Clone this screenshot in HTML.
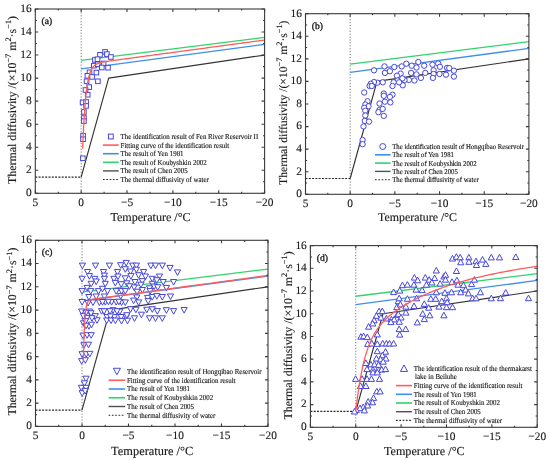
<!DOCTYPE html>
<html><head><meta charset="utf-8"><style>
html,body{margin:0;padding:0;background:#fff;width:550px;height:460px;overflow:hidden;}
svg{display:block;filter:blur(0.3px);}
text{font-family:'Liberation Serif','Times New Roman',serif;fill:#1a1a1a;text-rendering:geometricPrecision;stroke:#1a1a1a;stroke-width:0.14px;}
</style></head><body>
<svg width="550" height="460" viewBox="0 0 550 460">
<rect width="550" height="460" fill="#fff"/>
<line x1="81.16" y1="193.3" x2="81.16" y2="9" stroke="#7a7a7a" stroke-width="1" stroke-dasharray="1.2 1.7"/>
<line x1="35.3" y1="177.17" x2="81.16" y2="177.17" stroke="#2a2a2a" stroke-width="1.1" stroke-dasharray="2 1.3"/>
<polyline points="81.16,60.37 264.6,37.45" fill="none" stroke="#2fd46a" stroke-width="1.3" stroke-linejoin="round"/>
<polyline points="81.16,68.9 264.6,44.36" fill="none" stroke="#3c8ff0" stroke-width="1.3" stroke-linejoin="round"/>
<polyline points="81.16,177.17 108.68,78.11 264.6,55.07" fill="none" stroke="#333" stroke-width="1.15" stroke-linejoin="round"/>
<rect x="102.8" y="49.6" width="4.6" height="4.6" fill="#fff" stroke="#4646dc" stroke-width="1.0"/>
<rect x="97.7" y="52.5" width="4.6" height="4.6" fill="#fff" stroke="#4646dc" stroke-width="1.0"/>
<rect x="104.6" y="51.8" width="4.6" height="4.6" fill="#fff" stroke="#4646dc" stroke-width="1.0"/>
<rect x="108.6" y="54.7" width="4.6" height="4.6" fill="#fff" stroke="#4646dc" stroke-width="1.0"/>
<rect x="92.6" y="57.6" width="4.6" height="4.6" fill="#fff" stroke="#4646dc" stroke-width="1.0"/>
<rect x="95.2" y="56.9" width="4.6" height="4.6" fill="#fff" stroke="#4646dc" stroke-width="1.0"/>
<rect x="101.3" y="61.2" width="4.6" height="4.6" fill="#fff" stroke="#4646dc" stroke-width="1.0"/>
<rect x="91.5" y="63.4" width="4.6" height="4.6" fill="#fff" stroke="#4646dc" stroke-width="1.0"/>
<rect x="95.5" y="62" width="4.6" height="4.6" fill="#fff" stroke="#4646dc" stroke-width="1.0"/>
<rect x="99.5" y="65.2" width="4.6" height="4.6" fill="#fff" stroke="#4646dc" stroke-width="1.0"/>
<rect x="105.7" y="65.4" width="4.6" height="4.6" fill="#fff" stroke="#4646dc" stroke-width="1.0"/>
<rect x="87.2" y="70" width="4.6" height="4.6" fill="#fff" stroke="#4646dc" stroke-width="1.0"/>
<rect x="94.1" y="70.3" width="4.6" height="4.6" fill="#fff" stroke="#4646dc" stroke-width="1.0"/>
<rect x="85.1" y="73.5" width="4.6" height="4.6" fill="#fff" stroke="#4646dc" stroke-width="1.0"/>
<rect x="89.8" y="74.6" width="4.6" height="4.6" fill="#fff" stroke="#4646dc" stroke-width="1.0"/>
<rect x="95.6" y="79" width="4.6" height="4.6" fill="#fff" stroke="#4646dc" stroke-width="1.0"/>
<rect x="84.3" y="79" width="4.6" height="4.6" fill="#fff" stroke="#4646dc" stroke-width="1.0"/>
<rect x="86.9" y="84.8" width="4.6" height="4.6" fill="#fff" stroke="#4646dc" stroke-width="1.0"/>
<rect x="83.2" y="87.7" width="4.6" height="4.6" fill="#fff" stroke="#4646dc" stroke-width="1.0"/>
<rect x="85.4" y="92.4" width="4.6" height="4.6" fill="#fff" stroke="#4646dc" stroke-width="1.0"/>
<rect x="80.3" y="100.1" width="4.6" height="4.6" fill="#fff" stroke="#4646dc" stroke-width="1.0"/>
<rect x="83.8" y="99.7" width="4.6" height="4.6" fill="#fff" stroke="#4646dc" stroke-width="1.0"/>
<rect x="83.8" y="103.6" width="4.6" height="4.6" fill="#fff" stroke="#4646dc" stroke-width="1.0"/>
<rect x="81.6" y="109.7" width="4.6" height="4.6" fill="#fff" stroke="#4646dc" stroke-width="1.0"/>
<rect x="81.6" y="115.7" width="4.6" height="4.6" fill="#fff" stroke="#4646dc" stroke-width="1.0"/>
<rect x="81.6" y="118.8" width="4.6" height="4.6" fill="#fff" stroke="#4646dc" stroke-width="1.0"/>
<rect x="80.8" y="133.4" width="4.6" height="4.6" fill="#fff" stroke="#4646dc" stroke-width="1.0"/>
<rect x="80.8" y="136.9" width="4.6" height="4.6" fill="#fff" stroke="#4646dc" stroke-width="1.0"/>
<rect x="80.6" y="156" width="4.6" height="4.6" fill="#fff" stroke="#4646dc" stroke-width="1.0"/>
<polyline points="82.67,148.49 82.68,148.42 82.69,148.19 82.7,147.75 82.73,147.1 82.76,146.24 82.81,145.15 82.86,143.83 82.93,142.3 83,140.56 83.09,138.62 83.18,136.49 83.29,134.18 83.41,131.72 83.54,129.11 83.68,126.39 83.84,123.56 84,120.66 84.18,117.71 84.37,114.71 84.57,111.71 84.79,108.71 85.02,105.73 85.26,102.81 85.51,99.94 85.78,97.15 86.06,94.45 86.35,91.86 86.66,89.38 86.98,87.01 87.31,84.78 87.66,82.67 88.02,80.7 88.4,78.86 88.78,77.15 89.19,75.58 89.6,74.13 90.03,72.8 90.48,71.59 90.94,70.5 91.41,69.51 91.9,68.62 92.4,67.81 92.92,67.1 93.45,66.46 93.99,65.89 94.56,65.38 95.13,64.93 95.72,64.52 96.33,64.17 96.95,63.85 97.58,63.56 98.23,63.31 98.9,63.08 99.58,62.87 100.28,62.67 100.99,62.5 101.72,62.33 102.46,62.18 103.22,62.03 103.99,61.89 104.78,61.75 105.59,61.62 106.41,61.49 107.24,61.36 108.1,61.24 108.97,61.11 109.85,60.98 110.75,60.85 111.67,60.73 112.6,60.6 113.55,60.47 114.51,60.33 115.49,60.2 116.49,60.06 117.5,59.93 118.53,59.79 119.58,59.64 120.64,59.5 121.72,59.35 122.82,59.2 123.93,59.05 125.06,58.9 126.2,58.75 127.37,58.59 128.55,58.43 129.74,58.27 130.95,58.1 132.18,57.94 133.43,57.77 134.69,57.6 135.97,57.43 137.27,57.25 138.58,57.07 139.91,56.89 141.26,56.71 142.63,56.53 144.01,56.34 145.41,56.15 146.83,55.96 148.26,55.76 149.71,55.57 151.18,55.37 152.67,55.17 154.17,54.96 155.69,54.76 157.23,54.55 158.79,54.34 160.36,54.13 161.95,53.91 163.56,53.69 165.19,53.47 166.83,53.25 168.49,53.03 170.17,52.8 171.87,52.57 173.59,52.34 175.32,52.1 177.07,51.87 178.84,51.63 180.63,51.39 182.43,51.14 184.25,50.9 186.1,50.65 187.95,50.4 189.83,50.14 191.73,49.89 193.64,49.63 195.57,49.37 197.52,49.1 199.49,48.84 201.47,48.57 203.48,48.3 205.5,48.02 207.54,47.75 209.6,47.47 211.68,47.19 213.77,46.9 215.89,46.62 218.02,46.33 220.17,46.04 222.34,45.74 224.53,45.45 226.74,45.15 228.97,44.85 231.21,44.55 233.47,44.24 235.75,43.93 238.05,43.62 240.37,43.31 242.71,42.99 245.07,42.67 247.44,42.35 249.84,42.03 252.25,41.7 254.68,41.37 257.13,41.04 259.6,40.71 262.09,40.37 264.6,40.03" fill="none" stroke="#ff5c5c" stroke-width="1.3" stroke-linejoin="round"/>
<rect x="35.3" y="9" width="229.3" height="184.3" fill="none" stroke="#3a3a3a" stroke-width="1.1"/>
<path d="M35.3,193.3h3M264.6,193.3h-3M35.3,181.78h1.6M264.6,181.78h-1.6M35.3,170.26h3M264.6,170.26h-3M35.3,158.74h1.6M264.6,158.74h-1.6M35.3,147.23h3M264.6,147.23h-3M35.3,135.71h1.6M264.6,135.71h-1.6M35.3,124.19h3M264.6,124.19h-3M35.3,112.67h1.6M264.6,112.67h-1.6M35.3,101.15h3M264.6,101.15h-3M35.3,89.63h1.6M264.6,89.63h-1.6M35.3,78.11h3M264.6,78.11h-3M35.3,66.59h1.6M264.6,66.59h-1.6M35.3,55.07h3M264.6,55.07h-3M35.3,43.56h1.6M264.6,43.56h-1.6M35.3,32.04h3M264.6,32.04h-3M35.3,20.52h1.6M264.6,20.52h-1.6M35.3,9h3M264.6,9h-3M35.3,193.3v-3M35.3,9v3M58.23,193.3v-1.6M58.23,9v1.6M81.16,193.3v-3M81.16,9v3M104.09,193.3v-1.6M104.09,9v1.6M127.02,193.3v-3M127.02,9v3M149.95,193.3v-1.6M149.95,9v1.6M172.88,193.3v-3M172.88,9v3M195.81,193.3v-1.6M195.81,9v1.6M218.74,193.3v-3M218.74,9v3M241.67,193.3v-1.6M241.67,9v1.6M264.6,193.3v-3M264.6,9v3" stroke="#3a3a3a" stroke-width="1.1" fill="none"/>
<text x="31.7" y="196.2" text-anchor="end" font-size="11.4">0</text>
<text x="31.7" y="173.16" text-anchor="end" font-size="11.4">2</text>
<text x="31.7" y="150.13" text-anchor="end" font-size="11.4">4</text>
<text x="31.7" y="127.09" text-anchor="end" font-size="11.4">6</text>
<text x="31.7" y="104.05" text-anchor="end" font-size="11.4">8</text>
<text x="31.7" y="81.01" text-anchor="end" font-size="11.4">10</text>
<text x="31.7" y="57.97" text-anchor="end" font-size="11.4">12</text>
<text x="31.7" y="34.94" text-anchor="end" font-size="11.4">14</text>
<text x="31.7" y="11.9" text-anchor="end" font-size="11.4">16</text>
<text x="35.3" y="205.5" text-anchor="middle" font-size="11.4">5</text>
<text x="81.16" y="205.5" text-anchor="middle" font-size="11.4">0</text>
<text x="127.02" y="205.5" text-anchor="middle" font-size="11.4">−5</text>
<text x="172.88" y="205.5" text-anchor="middle" font-size="11.4">−10</text>
<text x="218.74" y="205.5" text-anchor="middle" font-size="11.4">−15</text>
<text x="264.6" y="205.5" text-anchor="middle" font-size="11.4">−20</text>
<text x="150.5" y="220.8" text-anchor="middle" font-size="12.1">Temperature /°C</text>
<text transform="translate(16,100) rotate(-90)" text-anchor="middle" font-size="11.9">Thermal diffusivity /(×10<tspan dy="-4.7" font-size="8.3">−7</tspan><tspan dy="4.7"> m</tspan><tspan dy="-4.7" font-size="8.3">2</tspan><tspan dy="4.7">·s</tspan><tspan dy="-4.7" font-size="8.3">−1</tspan><tspan dy="4.7">)</tspan></text>
<text x="41.6" y="23.9" font-size="9.6" style="stroke-width:0.35px">(a)</text>
<rect x="108.43" y="134.09" width="4.83" height="4.83" fill="#fff" stroke="#4646dc" stroke-width="1.0"/>
<text transform="translate(120.6,138.9) scale(1,1.1)" font-size="6.9">The identification result of Fen River Reservoir II</text>
<line x1="103" y1="145.1" x2="118.7" y2="145.1" stroke="#ff5c5c" stroke-width="1.6"/>
<text transform="translate(120.6,147.5) scale(1,1.1)" font-size="6.9">Fitting curve of the identification result</text>
<line x1="103" y1="153.7" x2="118.7" y2="153.7" stroke="#3c8ff0" stroke-width="1.6"/>
<text transform="translate(120.6,156.1) scale(1,1.1)" font-size="6.9">The result of Yen 1981</text>
<line x1="103" y1="162.3" x2="118.7" y2="162.3" stroke="#2fd46a" stroke-width="1.6"/>
<text transform="translate(120.6,164.7) scale(1,1.1)" font-size="6.9">The result of Koubyshkin 2002</text>
<line x1="103" y1="170.9" x2="118.7" y2="170.9" stroke="#505050" stroke-width="1.4"/>
<text transform="translate(120.6,173.3) scale(1,1.1)" font-size="6.9">The result of Chen 2005</text>
<line x1="103" y1="179.5" x2="118.7" y2="179.5" stroke="#2a2a2a" stroke-width="1.1" stroke-dasharray="1.7 1.6"/>
<text transform="translate(120.6,181.9) scale(1,1.1)" font-size="6.9">The thermal diffusivity of water</text>
<line x1="350.18" y1="194.3" x2="350.18" y2="13.7" stroke="#7a7a7a" stroke-width="1" stroke-dasharray="1.2 1.7"/>
<line x1="305.5" y1="178.5" x2="350.18" y2="178.5" stroke="#2a2a2a" stroke-width="1.1" stroke-dasharray="2 1.3"/>
<polyline points="350.18,64.04 528.9,41.58" fill="none" stroke="#2fd46a" stroke-width="1.3" stroke-linejoin="round"/>
<polyline points="350.18,72.39 528.9,48.35" fill="none" stroke="#3c8ff0" stroke-width="1.3" stroke-linejoin="round"/>
<polyline points="350.18,178.5 376.99,81.42 528.9,58.85" fill="none" stroke="#333" stroke-width="1.15" stroke-linejoin="round"/>
<circle cx="374" cy="70.3" r="2.6750000000000003" fill="#fff" stroke="#4646dc" stroke-width="1.0"/>
<circle cx="384.5" cy="66.4" r="2.6750000000000003" fill="#fff" stroke="#4646dc" stroke-width="1.0"/>
<circle cx="384.9" cy="72.9" r="2.6750000000000003" fill="#fff" stroke="#4646dc" stroke-width="1.0"/>
<circle cx="389.9" cy="71.2" r="2.6750000000000003" fill="#fff" stroke="#4646dc" stroke-width="1.0"/>
<circle cx="394.3" cy="67" r="2.6750000000000003" fill="#fff" stroke="#4646dc" stroke-width="1.0"/>
<circle cx="401.7" cy="66.4" r="2.6750000000000003" fill="#fff" stroke="#4646dc" stroke-width="1.0"/>
<circle cx="406.3" cy="63.7" r="2.6750000000000003" fill="#fff" stroke="#4646dc" stroke-width="1.0"/>
<circle cx="411.7" cy="65.7" r="2.6750000000000003" fill="#fff" stroke="#4646dc" stroke-width="1.0"/>
<circle cx="416.5" cy="67.5" r="2.6750000000000003" fill="#fff" stroke="#4646dc" stroke-width="1.0"/>
<circle cx="418.3" cy="62" r="2.6750000000000003" fill="#fff" stroke="#4646dc" stroke-width="1.0"/>
<circle cx="424.2" cy="65.7" r="2.6750000000000003" fill="#fff" stroke="#4646dc" stroke-width="1.0"/>
<circle cx="432.5" cy="64.6" r="2.6750000000000003" fill="#fff" stroke="#4646dc" stroke-width="1.0"/>
<circle cx="438.2" cy="63.5" r="2.6750000000000003" fill="#fff" stroke="#4646dc" stroke-width="1.0"/>
<circle cx="439.9" cy="66.8" r="2.6750000000000003" fill="#fff" stroke="#4646dc" stroke-width="1.0"/>
<circle cx="447.1" cy="67.9" r="2.6750000000000003" fill="#fff" stroke="#4646dc" stroke-width="1.0"/>
<circle cx="449.3" cy="68.1" r="2.6750000000000003" fill="#fff" stroke="#4646dc" stroke-width="1.0"/>
<circle cx="453.9" cy="70.7" r="2.6750000000000003" fill="#fff" stroke="#4646dc" stroke-width="1.0"/>
<circle cx="433.6" cy="70.3" r="2.6750000000000003" fill="#fff" stroke="#4646dc" stroke-width="1.0"/>
<circle cx="433.6" cy="74" r="2.6750000000000003" fill="#fff" stroke="#4646dc" stroke-width="1.0"/>
<circle cx="439.5" cy="74" r="2.6750000000000003" fill="#fff" stroke="#4646dc" stroke-width="1.0"/>
<circle cx="446" cy="74.7" r="2.6750000000000003" fill="#fff" stroke="#4646dc" stroke-width="1.0"/>
<circle cx="453.9" cy="76.6" r="2.6750000000000003" fill="#fff" stroke="#4646dc" stroke-width="1.0"/>
<circle cx="432.9" cy="77.9" r="2.6750000000000003" fill="#fff" stroke="#4646dc" stroke-width="1.0"/>
<circle cx="425.3" cy="72.9" r="2.6750000000000003" fill="#fff" stroke="#4646dc" stroke-width="1.0"/>
<circle cx="420.9" cy="77.9" r="2.6750000000000003" fill="#fff" stroke="#4646dc" stroke-width="1.0"/>
<circle cx="416.5" cy="74.4" r="2.6750000000000003" fill="#fff" stroke="#4646dc" stroke-width="1.0"/>
<circle cx="411.1" cy="72.9" r="2.6750000000000003" fill="#fff" stroke="#4646dc" stroke-width="1.0"/>
<circle cx="414.4" cy="80.5" r="2.6750000000000003" fill="#fff" stroke="#4646dc" stroke-width="1.0"/>
<circle cx="408.9" cy="79.9" r="2.6750000000000003" fill="#fff" stroke="#4646dc" stroke-width="1.0"/>
<circle cx="404.5" cy="80.1" r="2.6750000000000003" fill="#fff" stroke="#4646dc" stroke-width="1.0"/>
<circle cx="400.6" cy="73.6" r="2.6750000000000003" fill="#fff" stroke="#4646dc" stroke-width="1.0"/>
<circle cx="396.9" cy="75.7" r="2.6750000000000003" fill="#fff" stroke="#4646dc" stroke-width="1.0"/>
<circle cx="397.6" cy="80.5" r="2.6750000000000003" fill="#fff" stroke="#4646dc" stroke-width="1.0"/>
<circle cx="402.4" cy="78.4" r="2.6750000000000003" fill="#fff" stroke="#4646dc" stroke-width="1.0"/>
<circle cx="402.8" cy="85.3" r="2.6750000000000003" fill="#fff" stroke="#4646dc" stroke-width="1.0"/>
<circle cx="399.1" cy="82.3" r="2.6750000000000003" fill="#fff" stroke="#4646dc" stroke-width="1.0"/>
<circle cx="393.6" cy="82.3" r="2.6750000000000003" fill="#fff" stroke="#4646dc" stroke-width="1.0"/>
<circle cx="392.5" cy="86" r="2.6750000000000003" fill="#fff" stroke="#4646dc" stroke-width="1.0"/>
<circle cx="382.7" cy="82.3" r="2.6750000000000003" fill="#fff" stroke="#4646dc" stroke-width="1.0"/>
<circle cx="377.3" cy="82.7" r="2.6750000000000003" fill="#fff" stroke="#4646dc" stroke-width="1.0"/>
<circle cx="374" cy="82.1" r="2.6750000000000003" fill="#fff" stroke="#4646dc" stroke-width="1.0"/>
<circle cx="370.7" cy="83.8" r="2.6750000000000003" fill="#fff" stroke="#4646dc" stroke-width="1.0"/>
<circle cx="369.6" cy="86" r="2.6750000000000003" fill="#fff" stroke="#4646dc" stroke-width="1.0"/>
<circle cx="371.8" cy="86" r="2.6750000000000003" fill="#fff" stroke="#4646dc" stroke-width="1.0"/>
<circle cx="364.2" cy="92.5" r="2.6750000000000003" fill="#fff" stroke="#4646dc" stroke-width="1.0"/>
<circle cx="383.8" cy="93.6" r="2.6750000000000003" fill="#fff" stroke="#4646dc" stroke-width="1.0"/>
<circle cx="392.5" cy="94.7" r="2.6750000000000003" fill="#fff" stroke="#4646dc" stroke-width="1.0"/>
<circle cx="383.8" cy="95.8" r="2.6750000000000003" fill="#fff" stroke="#4646dc" stroke-width="1.0"/>
<circle cx="389.9" cy="96.9" r="2.6750000000000003" fill="#fff" stroke="#4646dc" stroke-width="1.0"/>
<circle cx="379.5" cy="103.5" r="2.6750000000000003" fill="#fff" stroke="#4646dc" stroke-width="1.0"/>
<circle cx="384.9" cy="101.7" r="2.6750000000000003" fill="#fff" stroke="#4646dc" stroke-width="1.0"/>
<circle cx="390.4" cy="102.4" r="2.6750000000000003" fill="#fff" stroke="#4646dc" stroke-width="1.0"/>
<circle cx="367.5" cy="101.3" r="2.6750000000000003" fill="#fff" stroke="#4646dc" stroke-width="1.0"/>
<circle cx="365.3" cy="104.5" r="2.6750000000000003" fill="#fff" stroke="#4646dc" stroke-width="1.0"/>
<circle cx="368.5" cy="106.3" r="2.6750000000000003" fill="#fff" stroke="#4646dc" stroke-width="1.0"/>
<circle cx="364.2" cy="107.8" r="2.6750000000000003" fill="#fff" stroke="#4646dc" stroke-width="1.0"/>
<circle cx="365.3" cy="110.7" r="2.6750000000000003" fill="#fff" stroke="#4646dc" stroke-width="1.0"/>
<circle cx="379.5" cy="110" r="2.6750000000000003" fill="#fff" stroke="#4646dc" stroke-width="1.0"/>
<circle cx="382.7" cy="108.9" r="2.6750000000000003" fill="#fff" stroke="#4646dc" stroke-width="1.0"/>
<circle cx="378.4" cy="112.2" r="2.6750000000000003" fill="#fff" stroke="#4646dc" stroke-width="1.0"/>
<circle cx="383.8" cy="115.9" r="2.6750000000000003" fill="#fff" stroke="#4646dc" stroke-width="1.0"/>
<circle cx="365.3" cy="115.5" r="2.6750000000000003" fill="#fff" stroke="#4646dc" stroke-width="1.0"/>
<circle cx="364.8" cy="120.9" r="2.6750000000000003" fill="#fff" stroke="#4646dc" stroke-width="1.0"/>
<circle cx="369" cy="121.6" r="2.6750000000000003" fill="#fff" stroke="#4646dc" stroke-width="1.0"/>
<circle cx="363.5" cy="126.4" r="2.6750000000000003" fill="#fff" stroke="#4646dc" stroke-width="1.0"/>
<circle cx="362.6" cy="140" r="2.6750000000000003" fill="#fff" stroke="#4646dc" stroke-width="1.0"/>
<circle cx="362.6" cy="144.2" r="2.6750000000000003" fill="#fff" stroke="#4646dc" stroke-width="1.0"/>
<rect x="305.5" y="13.7" width="223.4" height="180.6" fill="none" stroke="#3a3a3a" stroke-width="1.1"/>
<path d="M305.5,194.3h3M528.9,194.3h-3M305.5,183.01h1.6M528.9,183.01h-1.6M305.5,171.73h3M528.9,171.73h-3M305.5,160.44h1.6M528.9,160.44h-1.6M305.5,149.15h3M528.9,149.15h-3M305.5,137.86h1.6M528.9,137.86h-1.6M305.5,126.58h3M528.9,126.58h-3M305.5,115.29h1.6M528.9,115.29h-1.6M305.5,104h3M528.9,104h-3M305.5,92.71h1.6M528.9,92.71h-1.6M305.5,81.42h3M528.9,81.42h-3M305.5,70.14h1.6M528.9,70.14h-1.6M305.5,58.85h3M528.9,58.85h-3M305.5,47.56h1.6M528.9,47.56h-1.6M305.5,36.27h3M528.9,36.27h-3M305.5,24.99h1.6M528.9,24.99h-1.6M305.5,13.7h3M528.9,13.7h-3M305.5,194.3v-3M305.5,13.7v3M327.84,194.3v-1.6M327.84,13.7v1.6M350.18,194.3v-3M350.18,13.7v3M372.52,194.3v-1.6M372.52,13.7v1.6M394.86,194.3v-3M394.86,13.7v3M417.2,194.3v-1.6M417.2,13.7v1.6M439.54,194.3v-3M439.54,13.7v3M461.88,194.3v-1.6M461.88,13.7v1.6M484.22,194.3v-3M484.22,13.7v3M506.56,194.3v-1.6M506.56,13.7v1.6M528.9,194.3v-3M528.9,13.7v3" stroke="#3a3a3a" stroke-width="1.1" fill="none"/>
<text x="301.9" y="197.2" text-anchor="end" font-size="11.4">0</text>
<text x="301.9" y="174.63" text-anchor="end" font-size="11.4">2</text>
<text x="301.9" y="152.05" text-anchor="end" font-size="11.4">4</text>
<text x="301.9" y="129.47" text-anchor="end" font-size="11.4">6</text>
<text x="301.9" y="106.9" text-anchor="end" font-size="11.4">8</text>
<text x="301.9" y="84.33" text-anchor="end" font-size="11.4">10</text>
<text x="301.9" y="61.75" text-anchor="end" font-size="11.4">12</text>
<text x="301.9" y="39.17" text-anchor="end" font-size="11.4">14</text>
<text x="301.9" y="16.6" text-anchor="end" font-size="11.4">16</text>
<text x="305.5" y="206.5" text-anchor="middle" font-size="11.4">5</text>
<text x="350.18" y="206.5" text-anchor="middle" font-size="11.4">0</text>
<text x="394.86" y="206.5" text-anchor="middle" font-size="11.4">−5</text>
<text x="439.54" y="206.5" text-anchor="middle" font-size="11.4">−10</text>
<text x="484.22" y="206.5" text-anchor="middle" font-size="11.4">−15</text>
<text x="528.9" y="206.5" text-anchor="middle" font-size="11.4">−20</text>
<text x="417.5" y="220.5" text-anchor="middle" font-size="11.9">Temperature /°C</text>
<text transform="translate(287,102.7) rotate(-90)" text-anchor="middle" font-size="11.6">Thermal diffusivity /(×10<tspan dy="-4.7" font-size="8.3">−7</tspan><tspan dy="4.7"> m</tspan><tspan dy="-4.7" font-size="8.3">2</tspan><tspan dy="4.7">·s</tspan><tspan dy="-4.7" font-size="8.3">−1</tspan><tspan dy="4.7">)</tspan></text>
<text x="311.8" y="28.6" font-size="9.6" style="stroke-width:0.35px">(b)</text>
<circle cx="382.75" cy="146.5" r="2.9499999999999997" fill="#fff" stroke="#4646dc" stroke-width="1.0"/>
<text transform="translate(392.2,148.9) scale(1,1.1)" font-size="6.75">The identification result of Hongqibao Reservoir</text>
<line x1="375" y1="154.8" x2="390.5" y2="154.8" stroke="#3c8ff0" stroke-width="1.6"/>
<text transform="translate(392.2,157.2) scale(1,1.1)" font-size="6.75">The result of Yen 1981</text>
<line x1="375" y1="163.1" x2="390.5" y2="163.1" stroke="#2fd46a" stroke-width="1.6"/>
<text transform="translate(392.2,165.5) scale(1,1.1)" font-size="6.75">The result of Koubyshkin 2002</text>
<line x1="375" y1="171.4" x2="390.5" y2="171.4" stroke="#505050" stroke-width="1.4"/>
<text transform="translate(392.2,173.8) scale(1,1.1)" font-size="6.75">The result of Chen 2005</text>
<line x1="375" y1="179.7" x2="390.5" y2="179.7" stroke="#2a2a2a" stroke-width="1.1" stroke-dasharray="1.7 1.6"/>
<text transform="translate(392.2,182.1) scale(1,1.1)" font-size="6.75">The thermal diffusivity of water</text>
<line x1="82" y1="426.4" x2="82" y2="240.3" stroke="#7a7a7a" stroke-width="1" stroke-dasharray="1.2 1.7"/>
<line x1="35.5" y1="410.12" x2="82" y2="410.12" stroke="#2a2a2a" stroke-width="1.1" stroke-dasharray="2 1.3"/>
<polyline points="82,292.18 268,269.03" fill="none" stroke="#2fd46a" stroke-width="1.3" stroke-linejoin="round"/>
<polyline points="82,300.78 268,276.01" fill="none" stroke="#3c8ff0" stroke-width="1.3" stroke-linejoin="round"/>
<polyline points="82,410.12 109.9,310.09 268,286.82" fill="none" stroke="#333" stroke-width="1.15" stroke-linejoin="round"/>
<path d="M79.3,263.1H85.5L82.4,268.7Z" fill="#fff" stroke="#4646dc" stroke-width="1.0" stroke-linejoin="miter"/>
<path d="M92.4,263.1H98.6L95.5,268.7Z" fill="#fff" stroke="#4646dc" stroke-width="1.0" stroke-linejoin="miter"/>
<path d="M106.3,263.1H112.5L109.4,268.7Z" fill="#fff" stroke="#4646dc" stroke-width="1.0" stroke-linejoin="miter"/>
<path d="M117.6,262.7H123.8L120.7,268.3Z" fill="#fff" stroke="#4646dc" stroke-width="1.0" stroke-linejoin="miter"/>
<path d="M123.1,260.4H129.3L126.2,266Z" fill="#fff" stroke="#4646dc" stroke-width="1.0" stroke-linejoin="miter"/>
<path d="M84.4,269.5H90.6L87.5,275.1Z" fill="#fff" stroke="#4646dc" stroke-width="1.0" stroke-linejoin="miter"/>
<path d="M100.4,269.5H106.6L103.5,275.1Z" fill="#fff" stroke="#4646dc" stroke-width="1.0" stroke-linejoin="miter"/>
<path d="M114.4,269.5H120.6L117.5,275.1Z" fill="#fff" stroke="#4646dc" stroke-width="1.0" stroke-linejoin="miter"/>
<path d="M122.2,266.7H128.4L125.3,272.3Z" fill="#fff" stroke="#4646dc" stroke-width="1.0" stroke-linejoin="miter"/>
<path d="M86.3,273.6H92.5L89.4,279.2Z" fill="#fff" stroke="#4646dc" stroke-width="1.0" stroke-linejoin="miter"/>
<path d="M101.3,273.1H107.5L104.4,278.7Z" fill="#fff" stroke="#4646dc" stroke-width="1.0" stroke-linejoin="miter"/>
<path d="M79,276.3H85.2L82.1,281.9Z" fill="#fff" stroke="#4646dc" stroke-width="1.0" stroke-linejoin="miter"/>
<path d="M91.7,276.3H97.9L94.8,281.9Z" fill="#fff" stroke="#4646dc" stroke-width="1.0" stroke-linejoin="miter"/>
<path d="M93.1,279H99.3L96.2,284.6Z" fill="#fff" stroke="#4646dc" stroke-width="1.0" stroke-linejoin="miter"/>
<path d="M101.3,276.3H107.5L104.4,281.9Z" fill="#fff" stroke="#4646dc" stroke-width="1.0" stroke-linejoin="miter"/>
<path d="M110.8,276.3H117L113.9,281.9Z" fill="#fff" stroke="#4646dc" stroke-width="1.0" stroke-linejoin="miter"/>
<path d="M114.9,274H121.1L118,279.6Z" fill="#fff" stroke="#4646dc" stroke-width="1.0" stroke-linejoin="miter"/>
<path d="M122.2,275.8H128.4L125.3,281.4Z" fill="#fff" stroke="#4646dc" stroke-width="1.0" stroke-linejoin="miter"/>
<path d="M88.1,281.3H94.3L91.2,286.9Z" fill="#fff" stroke="#4646dc" stroke-width="1.0" stroke-linejoin="miter"/>
<path d="M102.2,281.3H108.4L105.3,286.9Z" fill="#fff" stroke="#4646dc" stroke-width="1.0" stroke-linejoin="miter"/>
<path d="M112.2,280.4H118.4L115.3,286Z" fill="#fff" stroke="#4646dc" stroke-width="1.0" stroke-linejoin="miter"/>
<path d="M118.1,281.7H124.3L121.2,287.3Z" fill="#fff" stroke="#4646dc" stroke-width="1.0" stroke-linejoin="miter"/>
<path d="M84,285.4H90.2L87.1,291Z" fill="#fff" stroke="#4646dc" stroke-width="1.0" stroke-linejoin="miter"/>
<path d="M79,288.6H85.2L82.1,294.2Z" fill="#fff" stroke="#4646dc" stroke-width="1.0" stroke-linejoin="miter"/>
<path d="M87.6,288.6H93.8L90.7,294.2Z" fill="#fff" stroke="#4646dc" stroke-width="1.0" stroke-linejoin="miter"/>
<path d="M95.4,288.6H101.6L98.5,294.2Z" fill="#fff" stroke="#4646dc" stroke-width="1.0" stroke-linejoin="miter"/>
<path d="M99.4,286.3H105.6L102.5,291.9Z" fill="#fff" stroke="#4646dc" stroke-width="1.0" stroke-linejoin="miter"/>
<path d="M104.4,288.6H110.6L107.5,294.2Z" fill="#fff" stroke="#4646dc" stroke-width="1.0" stroke-linejoin="miter"/>
<path d="M113.1,288.6H119.3L116.2,294.2Z" fill="#fff" stroke="#4646dc" stroke-width="1.0" stroke-linejoin="miter"/>
<path d="M118.5,288.6H124.7L121.6,294.2Z" fill="#fff" stroke="#4646dc" stroke-width="1.0" stroke-linejoin="miter"/>
<path d="M122.2,288.6H128.4L125.3,294.2Z" fill="#fff" stroke="#4646dc" stroke-width="1.0" stroke-linejoin="miter"/>
<path d="M129.6,263.1H135.8L132.7,268.7Z" fill="#fff" stroke="#4646dc" stroke-width="1.0" stroke-linejoin="miter"/>
<path d="M133.3,263.1H139.5L136.4,268.7Z" fill="#fff" stroke="#4646dc" stroke-width="1.0" stroke-linejoin="miter"/>
<path d="M147.8,263.1H154L150.9,268.7Z" fill="#fff" stroke="#4646dc" stroke-width="1.0" stroke-linejoin="miter"/>
<path d="M152.4,263.1H158.6L155.5,268.7Z" fill="#fff" stroke="#4646dc" stroke-width="1.0" stroke-linejoin="miter"/>
<path d="M159.2,263.1H165.4L162.3,268.7Z" fill="#fff" stroke="#4646dc" stroke-width="1.0" stroke-linejoin="miter"/>
<path d="M166.9,265.4H173.1L170,271Z" fill="#fff" stroke="#4646dc" stroke-width="1.0" stroke-linejoin="miter"/>
<path d="M127.4,269H133.6L130.5,274.6Z" fill="#fff" stroke="#4646dc" stroke-width="1.0" stroke-linejoin="miter"/>
<path d="M133.3,267.2H139.5L136.4,272.8Z" fill="#fff" stroke="#4646dc" stroke-width="1.0" stroke-linejoin="miter"/>
<path d="M140.5,269.5H146.7L143.6,275.1Z" fill="#fff" stroke="#4646dc" stroke-width="1.0" stroke-linejoin="miter"/>
<path d="M127.8,273.6H134L130.9,279.2Z" fill="#fff" stroke="#4646dc" stroke-width="1.0" stroke-linejoin="miter"/>
<path d="M135.5,272.7H141.7L138.6,278.3Z" fill="#fff" stroke="#4646dc" stroke-width="1.0" stroke-linejoin="miter"/>
<path d="M142.4,274H148.6L145.5,279.6Z" fill="#fff" stroke="#4646dc" stroke-width="1.0" stroke-linejoin="miter"/>
<path d="M156.4,274H162.6L159.5,279.6Z" fill="#fff" stroke="#4646dc" stroke-width="1.0" stroke-linejoin="miter"/>
<path d="M149.2,276.3H155.4L152.3,281.9Z" fill="#fff" stroke="#4646dc" stroke-width="1.0" stroke-linejoin="miter"/>
<path d="M131.9,279.5H138.1L135,285.1Z" fill="#fff" stroke="#4646dc" stroke-width="1.0" stroke-linejoin="miter"/>
<path d="M139.2,278.6H145.4L142.3,284.2Z" fill="#fff" stroke="#4646dc" stroke-width="1.0" stroke-linejoin="miter"/>
<path d="M153.7,277.7H159.9L156.8,283.3Z" fill="#fff" stroke="#4646dc" stroke-width="1.0" stroke-linejoin="miter"/>
<path d="M160.1,279.5H166.3L163.2,285.1Z" fill="#fff" stroke="#4646dc" stroke-width="1.0" stroke-linejoin="miter"/>
<path d="M170.5,279.5H176.7L173.6,285.1Z" fill="#fff" stroke="#4646dc" stroke-width="1.0" stroke-linejoin="miter"/>
<path d="M149.2,281.3H155.4L152.3,286.9Z" fill="#fff" stroke="#4646dc" stroke-width="1.0" stroke-linejoin="miter"/>
<path d="M123.7,280.8H129.9L126.8,286.4Z" fill="#fff" stroke="#4646dc" stroke-width="1.0" stroke-linejoin="miter"/>
<path d="M131,284.9H137.2L134.1,290.5Z" fill="#fff" stroke="#4646dc" stroke-width="1.0" stroke-linejoin="miter"/>
<path d="M137.8,282.2H144L140.9,287.8Z" fill="#fff" stroke="#4646dc" stroke-width="1.0" stroke-linejoin="miter"/>
<path d="M151,284H157.2L154.1,289.6Z" fill="#fff" stroke="#4646dc" stroke-width="1.0" stroke-linejoin="miter"/>
<path d="M163.3,285.4H169.5L166.4,291Z" fill="#fff" stroke="#4646dc" stroke-width="1.0" stroke-linejoin="miter"/>
<path d="M146.4,285.8H152.6L149.5,291.4Z" fill="#fff" stroke="#4646dc" stroke-width="1.0" stroke-linejoin="miter"/>
<path d="M174.4,269.9H180.6L177.5,275.5Z" fill="#fff" stroke="#4646dc" stroke-width="1.0" stroke-linejoin="miter"/>
<path d="M85.8,294.5H92L88.9,300.1Z" fill="#fff" stroke="#4646dc" stroke-width="1.0" stroke-linejoin="miter"/>
<path d="M93.1,294H99.3L96.2,299.6Z" fill="#fff" stroke="#4646dc" stroke-width="1.0" stroke-linejoin="miter"/>
<path d="M101.3,294H107.5L104.4,299.6Z" fill="#fff" stroke="#4646dc" stroke-width="1.0" stroke-linejoin="miter"/>
<path d="M117.6,293.6H123.8L120.7,299.2Z" fill="#fff" stroke="#4646dc" stroke-width="1.0" stroke-linejoin="miter"/>
<path d="M79,299.5H85.2L82.1,305.1Z" fill="#fff" stroke="#4646dc" stroke-width="1.0" stroke-linejoin="miter"/>
<path d="M89.9,299.9H96.1L93,305.5Z" fill="#fff" stroke="#4646dc" stroke-width="1.0" stroke-linejoin="miter"/>
<path d="M96.3,299.9H102.5L99.4,305.5Z" fill="#fff" stroke="#4646dc" stroke-width="1.0" stroke-linejoin="miter"/>
<path d="M102.2,299.5H108.4L105.3,305.1Z" fill="#fff" stroke="#4646dc" stroke-width="1.0" stroke-linejoin="miter"/>
<path d="M108.5,299.5H114.7L111.6,305.1Z" fill="#fff" stroke="#4646dc" stroke-width="1.0" stroke-linejoin="miter"/>
<path d="M113.1,299.5H119.3L116.2,305.1Z" fill="#fff" stroke="#4646dc" stroke-width="1.0" stroke-linejoin="miter"/>
<path d="M118.5,299.9H124.7L121.6,305.5Z" fill="#fff" stroke="#4646dc" stroke-width="1.0" stroke-linejoin="miter"/>
<path d="M122.2,299.9H128.4L125.3,305.5Z" fill="#fff" stroke="#4646dc" stroke-width="1.0" stroke-linejoin="miter"/>
<path d="M78.5,309H84.7L81.6,314.6Z" fill="#fff" stroke="#4646dc" stroke-width="1.0" stroke-linejoin="miter"/>
<path d="M86.3,309H92.5L89.4,314.6Z" fill="#fff" stroke="#4646dc" stroke-width="1.0" stroke-linejoin="miter"/>
<path d="M98.5,308.6H104.7L101.6,314.2Z" fill="#fff" stroke="#4646dc" stroke-width="1.0" stroke-linejoin="miter"/>
<path d="M109.9,307.7H116.1L113,313.3Z" fill="#fff" stroke="#4646dc" stroke-width="1.0" stroke-linejoin="miter"/>
<path d="M116.7,309H122.9L119.8,314.6Z" fill="#fff" stroke="#4646dc" stroke-width="1.0" stroke-linejoin="miter"/>
<path d="M80.4,313.6H86.6L83.5,319.2Z" fill="#fff" stroke="#4646dc" stroke-width="1.0" stroke-linejoin="miter"/>
<path d="M84,315.4H90.2L87.1,321Z" fill="#fff" stroke="#4646dc" stroke-width="1.0" stroke-linejoin="miter"/>
<path d="M93.9,317.7H100.1L97,323.3Z" fill="#fff" stroke="#4646dc" stroke-width="1.0" stroke-linejoin="miter"/>
<path d="M92.2,313.6H98.4L95.3,319.2Z" fill="#fff" stroke="#4646dc" stroke-width="1.0" stroke-linejoin="miter"/>
<path d="M104,314.5H110.2L107.1,320.1Z" fill="#fff" stroke="#4646dc" stroke-width="1.0" stroke-linejoin="miter"/>
<path d="M111.3,314.5H117.5L114.4,320.1Z" fill="#fff" stroke="#4646dc" stroke-width="1.0" stroke-linejoin="miter"/>
<path d="M118.1,314.5H124.3L121.2,320.1Z" fill="#fff" stroke="#4646dc" stroke-width="1.0" stroke-linejoin="miter"/>
<path d="M123.1,314.5H129.3L126.2,320.1Z" fill="#fff" stroke="#4646dc" stroke-width="1.0" stroke-linejoin="miter"/>
<path d="M80.4,320.8H86.6L83.5,326.4Z" fill="#fff" stroke="#4646dc" stroke-width="1.0" stroke-linejoin="miter"/>
<path d="M85.8,323.6H92L88.9,329.2Z" fill="#fff" stroke="#4646dc" stroke-width="1.0" stroke-linejoin="miter"/>
<path d="M133.7,294.9H139.9L136.8,300.5Z" fill="#fff" stroke="#4646dc" stroke-width="1.0" stroke-linejoin="miter"/>
<path d="M144.6,295.4H150.8L147.7,301Z" fill="#fff" stroke="#4646dc" stroke-width="1.0" stroke-linejoin="miter"/>
<path d="M149.2,294.5H155.4L152.3,300.1Z" fill="#fff" stroke="#4646dc" stroke-width="1.0" stroke-linejoin="miter"/>
<path d="M153.7,293.6H159.9L156.8,299.2Z" fill="#fff" stroke="#4646dc" stroke-width="1.0" stroke-linejoin="miter"/>
<path d="M159.2,294.5H165.4L162.3,300.1Z" fill="#fff" stroke="#4646dc" stroke-width="1.0" stroke-linejoin="miter"/>
<path d="M167.4,294H173.6L170.5,299.6Z" fill="#fff" stroke="#4646dc" stroke-width="1.0" stroke-linejoin="miter"/>
<path d="M130.5,298.1H136.7L133.6,303.7Z" fill="#fff" stroke="#4646dc" stroke-width="1.0" stroke-linejoin="miter"/>
<path d="M135.5,299.9H141.7L138.6,305.5Z" fill="#fff" stroke="#4646dc" stroke-width="1.0" stroke-linejoin="miter"/>
<path d="M145.1,298.6H151.3L148.2,304.2Z" fill="#fff" stroke="#4646dc" stroke-width="1.0" stroke-linejoin="miter"/>
<path d="M127.4,306.7H133.6L130.5,312.3Z" fill="#fff" stroke="#4646dc" stroke-width="1.0" stroke-linejoin="miter"/>
<path d="M132.8,307.2H139L135.9,312.8Z" fill="#fff" stroke="#4646dc" stroke-width="1.0" stroke-linejoin="miter"/>
<path d="M143.7,307.2H149.9L146.8,312.8Z" fill="#fff" stroke="#4646dc" stroke-width="1.0" stroke-linejoin="miter"/>
<path d="M149.2,306.7H155.4L152.3,312.3Z" fill="#fff" stroke="#4646dc" stroke-width="1.0" stroke-linejoin="miter"/>
<path d="M154.2,308.6H160.4L157.3,314.2Z" fill="#fff" stroke="#4646dc" stroke-width="1.0" stroke-linejoin="miter"/>
<path d="M163.3,307.7H169.5L166.4,313.3Z" fill="#fff" stroke="#4646dc" stroke-width="1.0" stroke-linejoin="miter"/>
<path d="M170.5,308.6H176.7L173.6,314.2Z" fill="#fff" stroke="#4646dc" stroke-width="1.0" stroke-linejoin="miter"/>
<path d="M123.7,312.7H129.9L126.8,318.3Z" fill="#fff" stroke="#4646dc" stroke-width="1.0" stroke-linejoin="miter"/>
<path d="M131.4,315.8H137.6L134.5,321.4Z" fill="#fff" stroke="#4646dc" stroke-width="1.0" stroke-linejoin="miter"/>
<path d="M138.3,312.2H144.5L141.4,317.8Z" fill="#fff" stroke="#4646dc" stroke-width="1.0" stroke-linejoin="miter"/>
<path d="M146.4,315.8H152.6L149.5,321.4Z" fill="#fff" stroke="#4646dc" stroke-width="1.0" stroke-linejoin="miter"/>
<path d="M152.4,315.8H158.6L155.5,321.4Z" fill="#fff" stroke="#4646dc" stroke-width="1.0" stroke-linejoin="miter"/>
<path d="M159.2,315.8H165.4L162.3,321.4Z" fill="#fff" stroke="#4646dc" stroke-width="1.0" stroke-linejoin="miter"/>
<path d="M79.9,333.1H86.1L83,338.7Z" fill="#fff" stroke="#4646dc" stroke-width="1.0" stroke-linejoin="miter"/>
<path d="M84,332.7H90.2L87.1,338.3Z" fill="#fff" stroke="#4646dc" stroke-width="1.0" stroke-linejoin="miter"/>
<path d="M88.1,332.7H94.3L91.2,338.3Z" fill="#fff" stroke="#4646dc" stroke-width="1.0" stroke-linejoin="miter"/>
<path d="M80.8,342.7H87L83.9,348.3Z" fill="#fff" stroke="#4646dc" stroke-width="1.0" stroke-linejoin="miter"/>
<path d="M85.4,342.2H91.6L88.5,347.8Z" fill="#fff" stroke="#4646dc" stroke-width="1.0" stroke-linejoin="miter"/>
<path d="M79,351.7H85.2L82.1,357.3Z" fill="#fff" stroke="#4646dc" stroke-width="1.0" stroke-linejoin="miter"/>
<path d="M83.1,351.7H89.3L86.2,357.3Z" fill="#fff" stroke="#4646dc" stroke-width="1.0" stroke-linejoin="miter"/>
<path d="M86.7,351.3H92.9L89.8,356.9Z" fill="#fff" stroke="#4646dc" stroke-width="1.0" stroke-linejoin="miter"/>
<path d="M78.5,358.6H84.7L81.6,364.2Z" fill="#fff" stroke="#4646dc" stroke-width="1.0" stroke-linejoin="miter"/>
<path d="M82.2,357.7H88.4L85.3,363.3Z" fill="#fff" stroke="#4646dc" stroke-width="1.0" stroke-linejoin="miter"/>
<path d="M82.9,376.2H89.1L86,381.8Z" fill="#fff" stroke="#4646dc" stroke-width="1.0" stroke-linejoin="miter"/>
<path d="M81.3,380.8H87.5L84.4,386.4Z" fill="#fff" stroke="#4646dc" stroke-width="1.0" stroke-linejoin="miter"/>
<path d="M78.3,385.3H84.5L81.4,390.9Z" fill="#fff" stroke="#4646dc" stroke-width="1.0" stroke-linejoin="miter"/>
<path d="M82.9,385.3H89.1L86,390.9Z" fill="#fff" stroke="#4646dc" stroke-width="1.0" stroke-linejoin="miter"/>
<path d="M79.1,390.7H85.3L82.2,396.3Z" fill="#fff" stroke="#4646dc" stroke-width="1.0" stroke-linejoin="miter"/>
<path d="M82.1,388.4H88.3L85.2,394Z" fill="#fff" stroke="#4646dc" stroke-width="1.0" stroke-linejoin="miter"/>
<path d="M105.3,299.2H111.5L108.4,304.8Z" fill="#fff" stroke="#4646dc" stroke-width="1.0" stroke-linejoin="miter"/>
<path d="M99.4,299.5H105.6L102.5,305.1Z" fill="#fff" stroke="#4646dc" stroke-width="1.0" stroke-linejoin="miter"/>
<path d="M115.8,299.2H122L118.9,304.8Z" fill="#fff" stroke="#4646dc" stroke-width="1.0" stroke-linejoin="miter"/>
<path d="M100.9,308.7H107.1L104,314.3Z" fill="#fff" stroke="#4646dc" stroke-width="1.0" stroke-linejoin="miter"/>
<path d="M106.9,308.7H113.1L110,314.3Z" fill="#fff" stroke="#4646dc" stroke-width="1.0" stroke-linejoin="miter"/>
<path d="M113.9,308.7H120.1L117,314.3Z" fill="#fff" stroke="#4646dc" stroke-width="1.0" stroke-linejoin="miter"/>
<path d="M107.4,313.9H113.6L110.5,319.5Z" fill="#fff" stroke="#4646dc" stroke-width="1.0" stroke-linejoin="miter"/>
<path d="M103.6,318H109.8L106.7,323.6Z" fill="#fff" stroke="#4646dc" stroke-width="1.0" stroke-linejoin="miter"/>
<path d="M107.9,318H114.1L111,323.6Z" fill="#fff" stroke="#4646dc" stroke-width="1.0" stroke-linejoin="miter"/>
<path d="M112.3,318H118.5L115.4,323.6Z" fill="#fff" stroke="#4646dc" stroke-width="1.0" stroke-linejoin="miter"/>
<path d="M84.9,300.4H91.1L88,306Z" fill="#fff" stroke="#4646dc" stroke-width="1.0" stroke-linejoin="miter"/>
<path d="M82.9,310.2H89.1L86,315.8Z" fill="#fff" stroke="#4646dc" stroke-width="1.0" stroke-linejoin="miter"/>
<path d="M87.9,310.7H94.1L91,316.3Z" fill="#fff" stroke="#4646dc" stroke-width="1.0" stroke-linejoin="miter"/>
<path d="M88.9,315.7H95.1L92,321.3Z" fill="#fff" stroke="#4646dc" stroke-width="1.0" stroke-linejoin="miter"/>
<path d="M82.4,318.7H88.6L85.5,324.3Z" fill="#fff" stroke="#4646dc" stroke-width="1.0" stroke-linejoin="miter"/>
<path d="M88.4,322.2H94.6L91.5,327.8Z" fill="#fff" stroke="#4646dc" stroke-width="1.0" stroke-linejoin="miter"/>
<path d="M82.9,323.2H89.1L86,328.8Z" fill="#fff" stroke="#4646dc" stroke-width="1.0" stroke-linejoin="miter"/>
<path d="M181,307.5H187.2L184.1,313.1Z" fill="#fff" stroke="#4646dc" stroke-width="1.0" stroke-linejoin="miter"/>
<path d="M118.4,318.4H124.6L121.5,324Z" fill="#fff" stroke="#4646dc" stroke-width="1.0" stroke-linejoin="miter"/>
<path d="M124.4,318.2H130.6L127.5,323.8Z" fill="#fff" stroke="#4646dc" stroke-width="1.0" stroke-linejoin="miter"/>
<path d="M139.3,287.5H145.5L142.4,293.1Z" fill="#fff" stroke="#4646dc" stroke-width="1.0" stroke-linejoin="miter"/>
<path d="M147,288.6H153.2L150.1,294.2Z" fill="#fff" stroke="#4646dc" stroke-width="1.0" stroke-linejoin="miter"/>
<path d="M154.6,284.7H160.8L157.7,290.3Z" fill="#fff" stroke="#4646dc" stroke-width="1.0" stroke-linejoin="miter"/>
<path d="M126.3,283.7H132.5L129.4,289.3Z" fill="#fff" stroke="#4646dc" stroke-width="1.0" stroke-linejoin="miter"/>
<path d="M133.9,289.2H140.1L137,294.8Z" fill="#fff" stroke="#4646dc" stroke-width="1.0" stroke-linejoin="miter"/>
<polyline points="83.38,361.01 83.38,360.89 83.39,360.46 83.41,359.69 83.43,358.54 83.47,357.03 83.51,355.17 83.57,352.97 83.63,350.47 83.71,347.72 83.8,344.76 83.89,341.64 84,338.42 84.12,335.14 84.26,331.87 84.4,328.66 84.56,325.54 84.73,322.55 84.91,319.73 85.1,317.11 85.31,314.69 85.52,312.5 85.76,310.52 86,308.77 86.26,307.23 86.53,305.9 86.81,304.75 87.11,303.77 87.42,302.94 87.75,302.25 88.08,301.68 88.44,301.21 88.8,300.82 89.18,300.51 89.58,300.24 89.99,300.03 90.41,299.85 90.85,299.7 91.3,299.57 91.76,299.46 92.24,299.36 92.74,299.26 93.25,299.18 93.77,299.09 94.31,299.01 94.87,298.93 95.43,298.85 96.02,298.77 96.62,298.68 97.23,298.6 97.86,298.51 98.51,298.42 99.17,298.33 99.84,298.24 100.53,298.15 101.24,298.05 101.96,297.96 102.7,297.86 103.46,297.75 104.23,297.65 105.01,297.54 105.81,297.43 106.63,297.32 107.46,297.21 108.31,297.1 109.18,296.98 110.06,296.86 110.96,296.74 111.87,296.61 112.8,296.49 113.75,296.36 114.71,296.23 115.69,296.1 116.68,295.96 117.69,295.82 118.72,295.68 119.77,295.54 120.83,295.4 121.91,295.25 123,295.1 124.12,294.95 125.24,294.8 126.39,294.64 127.55,294.49 128.73,294.33 129.93,294.17 131.14,294 132.37,293.83 133.62,293.66 134.88,293.49 136.17,293.32 137.46,293.14 138.78,292.97 140.11,292.78 141.47,292.6 142.83,292.42 144.22,292.23 145.62,292.04 147.04,291.85 148.48,291.65 149.94,291.45 151.41,291.25 152.9,291.05 154.41,290.85 155.93,290.64 157.48,290.43 159.04,290.22 160.62,290 162.22,289.79 163.83,289.57 165.46,289.35 167.11,289.12 168.78,288.9 170.47,288.67 172.17,288.44 173.9,288.21 175.64,287.97 177.4,287.73 179.17,287.49 180.97,287.25 182.78,287 184.61,286.75 186.46,286.5 188.33,286.25 190.22,285.99 192.12,285.73 194.05,285.47 195.99,285.21 197.95,284.95 199.93,284.68 201.92,284.41 203.94,284.13 205.97,283.86 208.02,283.58 210.1,283.3 212.19,283.02 214.29,282.73 216.42,282.44 218.57,282.15 220.73,281.86 222.92,281.56 225.12,281.26 227.34,280.96 229.58,280.66 231.84,280.35 234.11,280.04 236.41,279.73 238.73,279.42 241.06,279.1 243.41,278.78 245.79,278.46 248.18,278.14 250.59,277.81 253.02,277.48 255.47,277.15 257.94,276.81 260.42,276.48 262.93,276.14 265.46,275.79 268,275.45" fill="none" stroke="#ff5c5c" stroke-width="1.3" stroke-linejoin="round"/>
<rect x="35.5" y="240.3" width="232.5" height="186.1" fill="none" stroke="#3a3a3a" stroke-width="1.1"/>
<path d="M35.5,426.4h3M268,426.4h-3M35.5,414.77h1.6M268,414.77h-1.6M35.5,403.14h3M268,403.14h-3M35.5,391.51h1.6M268,391.51h-1.6M35.5,379.88h3M268,379.88h-3M35.5,368.24h1.6M268,368.24h-1.6M35.5,356.61h3M268,356.61h-3M35.5,344.98h1.6M268,344.98h-1.6M35.5,333.35h3M268,333.35h-3M35.5,321.72h1.6M268,321.72h-1.6M35.5,310.09h3M268,310.09h-3M35.5,298.46h1.6M268,298.46h-1.6M35.5,286.82h3M268,286.82h-3M35.5,275.19h1.6M268,275.19h-1.6M35.5,263.56h3M268,263.56h-3M35.5,251.93h1.6M268,251.93h-1.6M35.5,240.3h3M268,240.3h-3M35.5,426.4v-3M35.5,240.3v3M58.75,426.4v-1.6M58.75,240.3v1.6M82,426.4v-3M82,240.3v3M105.25,426.4v-1.6M105.25,240.3v1.6M128.5,426.4v-3M128.5,240.3v3M151.75,426.4v-1.6M151.75,240.3v1.6M175,426.4v-3M175,240.3v3M198.25,426.4v-1.6M198.25,240.3v1.6M221.5,426.4v-3M221.5,240.3v3M244.75,426.4v-1.6M244.75,240.3v1.6M268,426.4v-3M268,240.3v3" stroke="#3a3a3a" stroke-width="1.1" fill="none"/>
<text x="31.9" y="429.3" text-anchor="end" font-size="11.4">0</text>
<text x="31.9" y="406.04" text-anchor="end" font-size="11.4">2</text>
<text x="31.9" y="382.77" text-anchor="end" font-size="11.4">4</text>
<text x="31.9" y="359.51" text-anchor="end" font-size="11.4">6</text>
<text x="31.9" y="336.25" text-anchor="end" font-size="11.4">8</text>
<text x="31.9" y="312.99" text-anchor="end" font-size="11.4">10</text>
<text x="31.9" y="289.72" text-anchor="end" font-size="11.4">12</text>
<text x="31.9" y="266.46" text-anchor="end" font-size="11.4">14</text>
<text x="31.9" y="243.2" text-anchor="end" font-size="11.4">16</text>
<text x="35.5" y="438.6" text-anchor="middle" font-size="11.4">5</text>
<text x="82" y="438.6" text-anchor="middle" font-size="11.4">0</text>
<text x="128.5" y="438.6" text-anchor="middle" font-size="11.4">−5</text>
<text x="175" y="438.6" text-anchor="middle" font-size="11.4">−10</text>
<text x="221.5" y="438.6" text-anchor="middle" font-size="11.4">−15</text>
<text x="268" y="438.6" text-anchor="middle" font-size="11.4">−20</text>
<text x="152.2" y="455" text-anchor="middle" font-size="12.4">Temperature /°C</text>
<text transform="translate(16.3,331.6) rotate(-90)" text-anchor="middle" font-size="11.9">Thermal diffusivity /(×10<tspan dy="-4.7" font-size="8.3">−7</tspan><tspan dy="4.7"> m</tspan><tspan dy="-4.7" font-size="8.3">2</tspan><tspan dy="4.7">·s</tspan><tspan dy="-4.7" font-size="8.3">−1</tspan><tspan dy="4.7">)</tspan></text>
<text x="41.8" y="255.2" font-size="9.6" style="stroke-width:0.35px">(c)</text>
<path d="M113.34,368.28H120.47L116.9,374.72Z" fill="#fff" stroke="#4646dc" stroke-width="1.0" stroke-linejoin="miter"/>
<text transform="translate(127,373.9) scale(1,1.1)" font-size="6.9">The identification result of Hongqibao Reservoir</text>
<line x1="108.6" y1="380.25" x2="125.2" y2="380.25" stroke="#ff5c5c" stroke-width="1.6"/>
<text transform="translate(127,382.65) scale(1,1.1)" font-size="6.9">Fitting curve of the identification result</text>
<line x1="108.6" y1="389" x2="125.2" y2="389" stroke="#3c8ff0" stroke-width="1.6"/>
<text transform="translate(127,391.4) scale(1,1.1)" font-size="6.9">The result of Yen 1981</text>
<line x1="108.6" y1="397.75" x2="125.2" y2="397.75" stroke="#2fd46a" stroke-width="1.6"/>
<text transform="translate(127,400.15) scale(1,1.1)" font-size="6.9">The result of Koubyshkin 2002</text>
<line x1="108.6" y1="406.5" x2="125.2" y2="406.5" stroke="#505050" stroke-width="1.4"/>
<text transform="translate(127,408.9) scale(1,1.1)" font-size="6.9">The result of Chen 2005</text>
<line x1="108.6" y1="415.25" x2="125.2" y2="415.25" stroke="#2a2a2a" stroke-width="1.1" stroke-dasharray="1.7 1.6"/>
<text transform="translate(127,417.65) scale(1,1.1)" font-size="6.9">The thermal diffusivity of water</text>
<line x1="355.76" y1="427.3" x2="355.76" y2="245.6" stroke="#7a7a7a" stroke-width="1" stroke-dasharray="1.2 1.7"/>
<line x1="310.4" y1="411.4" x2="355.76" y2="411.4" stroke="#2a2a2a" stroke-width="1.1" stroke-dasharray="2 1.3"/>
<polyline points="355.76,296.25 537.2,273.65" fill="none" stroke="#2fd46a" stroke-width="1.3" stroke-linejoin="round"/>
<polyline points="355.76,304.65 537.2,280.46" fill="none" stroke="#3c8ff0" stroke-width="1.3" stroke-linejoin="round"/>
<polyline points="355.76,411.4 382.98,313.74 537.2,291.02" fill="none" stroke="#333" stroke-width="1.15" stroke-linejoin="round"/>
<path d="M363.9,371.6H370.1L367,366Z" fill="#fff" stroke="#4646dc" stroke-width="1.0" stroke-linejoin="miter"/>
<path d="M369.9,372.1H376.1L373,366.5Z" fill="#fff" stroke="#4646dc" stroke-width="1.0" stroke-linejoin="miter"/>
<path d="M374.8,372.1H381L377.9,366.5Z" fill="#fff" stroke="#4646dc" stroke-width="1.0" stroke-linejoin="miter"/>
<path d="M378.6,372.1H384.8L381.7,366.5Z" fill="#fff" stroke="#4646dc" stroke-width="1.0" stroke-linejoin="miter"/>
<path d="M382.4,371.6H388.6L385.5,366Z" fill="#fff" stroke="#4646dc" stroke-width="1.0" stroke-linejoin="miter"/>
<path d="M369.9,374.9H376.1L373,369.3Z" fill="#fff" stroke="#4646dc" stroke-width="1.0" stroke-linejoin="miter"/>
<path d="M374.2,374.9H380.4L377.3,369.3Z" fill="#fff" stroke="#4646dc" stroke-width="1.0" stroke-linejoin="miter"/>
<path d="M352.5,381.4H358.7L355.6,375.8Z" fill="#fff" stroke="#4646dc" stroke-width="1.0" stroke-linejoin="miter"/>
<path d="M359,381.4H365.2L362.1,375.8Z" fill="#fff" stroke="#4646dc" stroke-width="1.0" stroke-linejoin="miter"/>
<path d="M363.9,381.4H370.1L367,375.8Z" fill="#fff" stroke="#4646dc" stroke-width="1.0" stroke-linejoin="miter"/>
<path d="M368.3,381.4H374.5L371.4,375.8Z" fill="#fff" stroke="#4646dc" stroke-width="1.0" stroke-linejoin="miter"/>
<path d="M376.4,381.4H382.6L379.5,375.8Z" fill="#fff" stroke="#4646dc" stroke-width="1.0" stroke-linejoin="miter"/>
<path d="M357.4,388.5H363.6L360.5,382.9Z" fill="#fff" stroke="#4646dc" stroke-width="1.0" stroke-linejoin="miter"/>
<path d="M362.8,388.5H369L365.9,382.9Z" fill="#fff" stroke="#4646dc" stroke-width="1.0" stroke-linejoin="miter"/>
<path d="M373.7,393.9H379.9L376.8,388.3Z" fill="#fff" stroke="#4646dc" stroke-width="1.0" stroke-linejoin="miter"/>
<path d="M377,393.9H383.2L380.1,388.3Z" fill="#fff" stroke="#4646dc" stroke-width="1.0" stroke-linejoin="miter"/>
<path d="M370.4,400.4H376.6L373.5,394.8Z" fill="#fff" stroke="#4646dc" stroke-width="1.0" stroke-linejoin="miter"/>
<path d="M369.4,404.8H375.6L372.5,399.2Z" fill="#fff" stroke="#4646dc" stroke-width="1.0" stroke-linejoin="miter"/>
<path d="M365,404.2H371.2L368.1,398.6Z" fill="#fff" stroke="#4646dc" stroke-width="1.0" stroke-linejoin="miter"/>
<path d="M364.5,408H370.7L367.6,402.4Z" fill="#fff" stroke="#4646dc" stroke-width="1.0" stroke-linejoin="miter"/>
<path d="M360.1,409.6H366.3L363.2,404Z" fill="#fff" stroke="#4646dc" stroke-width="1.0" stroke-linejoin="miter"/>
<path d="M356.9,410.7H363.1L360,405.1Z" fill="#fff" stroke="#4646dc" stroke-width="1.0" stroke-linejoin="miter"/>
<path d="M353.1,412.4H359.3L356.2,406.8Z" fill="#fff" stroke="#4646dc" stroke-width="1.0" stroke-linejoin="miter"/>
<path d="M351.4,414H357.6L354.5,408.4Z" fill="#fff" stroke="#4646dc" stroke-width="1.0" stroke-linejoin="miter"/>
<path d="M361.2,412.9H367.4L364.3,407.3Z" fill="#fff" stroke="#4646dc" stroke-width="1.0" stroke-linejoin="miter"/>
<path d="M357.8,339.2H364L360.9,333.6Z" fill="#fff" stroke="#4646dc" stroke-width="1.0" stroke-linejoin="miter"/>
<path d="M360.5,338.7H366.7L363.6,333.1Z" fill="#fff" stroke="#4646dc" stroke-width="1.0" stroke-linejoin="miter"/>
<path d="M364.2,339.6H370.4L367.3,334Z" fill="#fff" stroke="#4646dc" stroke-width="1.0" stroke-linejoin="miter"/>
<path d="M374.2,336.9H380.4L377.3,331.3Z" fill="#fff" stroke="#4646dc" stroke-width="1.0" stroke-linejoin="miter"/>
<path d="M364.6,346.4H370.8L367.7,340.8Z" fill="#fff" stroke="#4646dc" stroke-width="1.0" stroke-linejoin="miter"/>
<path d="M368.7,346H374.9L371.8,340.4Z" fill="#fff" stroke="#4646dc" stroke-width="1.0" stroke-linejoin="miter"/>
<path d="M374.2,346.4H380.4L377.3,340.8Z" fill="#fff" stroke="#4646dc" stroke-width="1.0" stroke-linejoin="miter"/>
<path d="M379.6,346H385.8L382.7,340.4Z" fill="#fff" stroke="#4646dc" stroke-width="1.0" stroke-linejoin="miter"/>
<path d="M383.3,346H389.5L386.4,340.4Z" fill="#fff" stroke="#4646dc" stroke-width="1.0" stroke-linejoin="miter"/>
<path d="M386.4,346H392.6L389.5,340.4Z" fill="#fff" stroke="#4646dc" stroke-width="1.0" stroke-linejoin="miter"/>
<path d="M390.5,346H396.7L393.6,340.4Z" fill="#fff" stroke="#4646dc" stroke-width="1.0" stroke-linejoin="miter"/>
<path d="M374.2,353.7H380.4L377.3,348.1Z" fill="#fff" stroke="#4646dc" stroke-width="1.0" stroke-linejoin="miter"/>
<path d="M382.4,354.2H388.6L385.5,348.6Z" fill="#fff" stroke="#4646dc" stroke-width="1.0" stroke-linejoin="miter"/>
<path d="M379.2,357.8H385.4L382.3,352.2Z" fill="#fff" stroke="#4646dc" stroke-width="1.0" stroke-linejoin="miter"/>
<path d="M373.3,361H379.5L376.4,355.4Z" fill="#fff" stroke="#4646dc" stroke-width="1.0" stroke-linejoin="miter"/>
<path d="M377.4,361.9H383.6L380.5,356.3Z" fill="#fff" stroke="#4646dc" stroke-width="1.0" stroke-linejoin="miter"/>
<path d="M382.8,361H389L385.9,355.4Z" fill="#fff" stroke="#4646dc" stroke-width="1.0" stroke-linejoin="miter"/>
<path d="M362.8,365.5H369L365.9,359.9Z" fill="#fff" stroke="#4646dc" stroke-width="1.0" stroke-linejoin="miter"/>
<path d="M367.8,366.9H374L370.9,361.3Z" fill="#fff" stroke="#4646dc" stroke-width="1.0" stroke-linejoin="miter"/>
<path d="M371.4,366.9H377.6L374.5,361.3Z" fill="#fff" stroke="#4646dc" stroke-width="1.0" stroke-linejoin="miter"/>
<path d="M375.5,367.3H381.7L378.6,361.7Z" fill="#fff" stroke="#4646dc" stroke-width="1.0" stroke-linejoin="miter"/>
<path d="M380.1,364.2H386.3L383.2,358.6Z" fill="#fff" stroke="#4646dc" stroke-width="1.0" stroke-linejoin="miter"/>
<path d="M396.1,331.6H402.3L399.2,326Z" fill="#fff" stroke="#4646dc" stroke-width="1.0" stroke-linejoin="miter"/>
<path d="M402.6,331.6H408.8L405.7,326Z" fill="#fff" stroke="#4646dc" stroke-width="1.0" stroke-linejoin="miter"/>
<path d="M396.6,337.1H402.8L399.7,331.5Z" fill="#fff" stroke="#4646dc" stroke-width="1.0" stroke-linejoin="miter"/>
<path d="M390.5,294.6H396.7L393.6,289Z" fill="#fff" stroke="#4646dc" stroke-width="1.0" stroke-linejoin="miter"/>
<path d="M395.1,303.7H401.3L398.2,298.1Z" fill="#fff" stroke="#4646dc" stroke-width="1.0" stroke-linejoin="miter"/>
<path d="M393.7,309.6H399.9L396.8,304Z" fill="#fff" stroke="#4646dc" stroke-width="1.0" stroke-linejoin="miter"/>
<path d="M376,313.7H382.2L379.1,308.1Z" fill="#fff" stroke="#4646dc" stroke-width="1.0" stroke-linejoin="miter"/>
<path d="M379.2,313.7H385.4L382.3,308.1Z" fill="#fff" stroke="#4646dc" stroke-width="1.0" stroke-linejoin="miter"/>
<path d="M373.3,318.3H379.5L376.4,312.7Z" fill="#fff" stroke="#4646dc" stroke-width="1.0" stroke-linejoin="miter"/>
<path d="M377.8,320.1H384L380.9,314.5Z" fill="#fff" stroke="#4646dc" stroke-width="1.0" stroke-linejoin="miter"/>
<path d="M371,322.8H377.2L374.1,317.2Z" fill="#fff" stroke="#4646dc" stroke-width="1.0" stroke-linejoin="miter"/>
<path d="M383.3,321H389.5L386.4,315.4Z" fill="#fff" stroke="#4646dc" stroke-width="1.0" stroke-linejoin="miter"/>
<path d="M388.3,321.9H394.5L391.4,316.3Z" fill="#fff" stroke="#4646dc" stroke-width="1.0" stroke-linejoin="miter"/>
<path d="M391,321.9H397.2L394.1,316.3Z" fill="#fff" stroke="#4646dc" stroke-width="1.0" stroke-linejoin="miter"/>
<path d="M394.2,317.3H400.4L397.3,311.7Z" fill="#fff" stroke="#4646dc" stroke-width="1.0" stroke-linejoin="miter"/>
<path d="M365.5,329.2H371.7L368.6,323.6Z" fill="#fff" stroke="#4646dc" stroke-width="1.0" stroke-linejoin="miter"/>
<path d="M369.6,326H375.8L372.7,320.4Z" fill="#fff" stroke="#4646dc" stroke-width="1.0" stroke-linejoin="miter"/>
<path d="M387.8,324.6H394L390.9,319Z" fill="#fff" stroke="#4646dc" stroke-width="1.0" stroke-linejoin="miter"/>
<path d="M421.2,306.4H427.4L424.3,300.8Z" fill="#fff" stroke="#4646dc" stroke-width="1.0" stroke-linejoin="miter"/>
<path d="M438.6,303.7H444.8L441.7,298.1Z" fill="#fff" stroke="#4646dc" stroke-width="1.0" stroke-linejoin="miter"/>
<path d="M397.3,306.9H403.5L400.4,301.3Z" fill="#fff" stroke="#4646dc" stroke-width="1.0" stroke-linejoin="miter"/>
<path d="M402.8,309.1H409L405.9,303.5Z" fill="#fff" stroke="#4646dc" stroke-width="1.0" stroke-linejoin="miter"/>
<path d="M410.9,308.6H417.1L414,303Z" fill="#fff" stroke="#4646dc" stroke-width="1.0" stroke-linejoin="miter"/>
<path d="M425.6,310.2H431.8L428.7,304.6Z" fill="#fff" stroke="#4646dc" stroke-width="1.0" stroke-linejoin="miter"/>
<path d="M435.9,309.1H442.1L439,303.5Z" fill="#fff" stroke="#4646dc" stroke-width="1.0" stroke-linejoin="miter"/>
<path d="M402.8,315.1H409L405.9,309.5Z" fill="#fff" stroke="#4646dc" stroke-width="1.0" stroke-linejoin="miter"/>
<path d="M395.2,316.7H401.4L398.3,311.1Z" fill="#fff" stroke="#4646dc" stroke-width="1.0" stroke-linejoin="miter"/>
<path d="M419.6,316.2H425.8L422.7,310.6Z" fill="#fff" stroke="#4646dc" stroke-width="1.0" stroke-linejoin="miter"/>
<path d="M426.7,317.8H432.9L429.8,312.2Z" fill="#fff" stroke="#4646dc" stroke-width="1.0" stroke-linejoin="miter"/>
<path d="M440.8,317.8H447L443.9,312.2Z" fill="#fff" stroke="#4646dc" stroke-width="1.0" stroke-linejoin="miter"/>
<path d="M397.9,320H404.1L401,314.4Z" fill="#fff" stroke="#4646dc" stroke-width="1.0" stroke-linejoin="miter"/>
<path d="M421.2,321.6H427.4L424.3,316Z" fill="#fff" stroke="#4646dc" stroke-width="1.0" stroke-linejoin="miter"/>
<path d="M396.2,324.3H402.4L399.3,318.7Z" fill="#fff" stroke="#4646dc" stroke-width="1.0" stroke-linejoin="miter"/>
<path d="M414.2,324.9H420.4L417.3,319.3Z" fill="#fff" stroke="#4646dc" stroke-width="1.0" stroke-linejoin="miter"/>
<path d="M433.2,273H439.4L436.3,267.4Z" fill="#fff" stroke="#4646dc" stroke-width="1.0" stroke-linejoin="miter"/>
<path d="M411.3,280.1H417.5L414.4,274.5Z" fill="#fff" stroke="#4646dc" stroke-width="1.0" stroke-linejoin="miter"/>
<path d="M422.2,280.1H428.4L425.3,274.5Z" fill="#fff" stroke="#4646dc" stroke-width="1.0" stroke-linejoin="miter"/>
<path d="M431.5,280.6H437.7L434.6,275Z" fill="#fff" stroke="#4646dc" stroke-width="1.0" stroke-linejoin="miter"/>
<path d="M440.8,279H447L443.9,273.4Z" fill="#fff" stroke="#4646dc" stroke-width="1.0" stroke-linejoin="miter"/>
<path d="M414.6,282.8H420.8L417.7,277.2Z" fill="#fff" stroke="#4646dc" stroke-width="1.0" stroke-linejoin="miter"/>
<path d="M426.1,282.2H432.3L429.2,276.6Z" fill="#fff" stroke="#4646dc" stroke-width="1.0" stroke-linejoin="miter"/>
<path d="M399.3,287.7H405.5L402.4,282.1Z" fill="#fff" stroke="#4646dc" stroke-width="1.0" stroke-linejoin="miter"/>
<path d="M404.3,287.2H410.5L407.4,281.6Z" fill="#fff" stroke="#4646dc" stroke-width="1.0" stroke-linejoin="miter"/>
<path d="M410.8,287.2H417L413.9,281.6Z" fill="#fff" stroke="#4646dc" stroke-width="1.0" stroke-linejoin="miter"/>
<path d="M423.3,287.2H429.5L426.4,281.6Z" fill="#fff" stroke="#4646dc" stroke-width="1.0" stroke-linejoin="miter"/>
<path d="M428.8,285H435L431.9,279.4Z" fill="#fff" stroke="#4646dc" stroke-width="1.0" stroke-linejoin="miter"/>
<path d="M437,286.1H443.2L440.1,280.5Z" fill="#fff" stroke="#4646dc" stroke-width="1.0" stroke-linejoin="miter"/>
<path d="M396.6,293.1H402.8L399.7,287.5Z" fill="#fff" stroke="#4646dc" stroke-width="1.0" stroke-linejoin="miter"/>
<path d="M413,292.1H419.2L416.1,286.5Z" fill="#fff" stroke="#4646dc" stroke-width="1.0" stroke-linejoin="miter"/>
<path d="M419,292.6H425.2L422.1,287Z" fill="#fff" stroke="#4646dc" stroke-width="1.0" stroke-linejoin="miter"/>
<path d="M433.2,294.8H439.4L436.3,289.2Z" fill="#fff" stroke="#4646dc" stroke-width="1.0" stroke-linejoin="miter"/>
<path d="M396.1,300.8H402.3L399.2,295.2Z" fill="#fff" stroke="#4646dc" stroke-width="1.0" stroke-linejoin="miter"/>
<path d="M404.3,301.3H410.5L407.4,295.7Z" fill="#fff" stroke="#4646dc" stroke-width="1.0" stroke-linejoin="miter"/>
<path d="M413.5,300.8H419.7L416.6,295.2Z" fill="#fff" stroke="#4646dc" stroke-width="1.0" stroke-linejoin="miter"/>
<path d="M427.7,301.3H433.9L430.8,295.7Z" fill="#fff" stroke="#4646dc" stroke-width="1.0" stroke-linejoin="miter"/>
<path d="M432.6,301.3H438.8L435.7,295.7Z" fill="#fff" stroke="#4646dc" stroke-width="1.0" stroke-linejoin="miter"/>
<path d="M449.4,261H455.6L452.5,255.4Z" fill="#fff" stroke="#4646dc" stroke-width="1.0" stroke-linejoin="miter"/>
<path d="M453.3,259.3H459.5L456.4,253.7Z" fill="#fff" stroke="#4646dc" stroke-width="1.0" stroke-linejoin="miter"/>
<path d="M457.1,259.9H463.3L460.2,254.3Z" fill="#fff" stroke="#4646dc" stroke-width="1.0" stroke-linejoin="miter"/>
<path d="M457.6,264.8H463.8L460.7,259.2Z" fill="#fff" stroke="#4646dc" stroke-width="1.0" stroke-linejoin="miter"/>
<path d="M465.8,259.9H472L468.9,254.3Z" fill="#fff" stroke="#4646dc" stroke-width="1.0" stroke-linejoin="miter"/>
<path d="M465.8,264.3H472L468.9,258.7Z" fill="#fff" stroke="#4646dc" stroke-width="1.0" stroke-linejoin="miter"/>
<path d="M472.9,263.7H479.1L476,258.1Z" fill="#fff" stroke="#4646dc" stroke-width="1.0" stroke-linejoin="miter"/>
<path d="M473.4,267.5H479.6L476.5,261.9Z" fill="#fff" stroke="#4646dc" stroke-width="1.0" stroke-linejoin="miter"/>
<path d="M479.4,262.1H485.6L482.5,256.5Z" fill="#fff" stroke="#4646dc" stroke-width="1.0" stroke-linejoin="miter"/>
<path d="M482.7,266.4H488.9L485.8,260.8Z" fill="#fff" stroke="#4646dc" stroke-width="1.0" stroke-linejoin="miter"/>
<path d="M488.2,259.9H494.4L491.3,254.3Z" fill="#fff" stroke="#4646dc" stroke-width="1.0" stroke-linejoin="miter"/>
<path d="M496.4,259.9H502.6L499.5,254.3Z" fill="#fff" stroke="#4646dc" stroke-width="1.0" stroke-linejoin="miter"/>
<path d="M453.3,273.5H459.5L456.4,267.9Z" fill="#fff" stroke="#4646dc" stroke-width="1.0" stroke-linejoin="miter"/>
<path d="M442.4,277.3H448.6L445.5,271.7Z" fill="#fff" stroke="#4646dc" stroke-width="1.0" stroke-linejoin="miter"/>
<path d="M442.4,282.2H448.6L445.5,276.6Z" fill="#fff" stroke="#4646dc" stroke-width="1.0" stroke-linejoin="miter"/>
<path d="M448.9,284.4H455.1L452,278.8Z" fill="#fff" stroke="#4646dc" stroke-width="1.0" stroke-linejoin="miter"/>
<path d="M453.8,282.8H460L456.9,277.2Z" fill="#fff" stroke="#4646dc" stroke-width="1.0" stroke-linejoin="miter"/>
<path d="M454.9,287.2H461.1L458,281.6Z" fill="#fff" stroke="#4646dc" stroke-width="1.0" stroke-linejoin="miter"/>
<path d="M460.3,287.7H466.5L463.4,282.1Z" fill="#fff" stroke="#4646dc" stroke-width="1.0" stroke-linejoin="miter"/>
<path d="M468.5,286.6H474.7L471.6,281Z" fill="#fff" stroke="#4646dc" stroke-width="1.0" stroke-linejoin="miter"/>
<path d="M471.3,282.2H477.5L474.4,276.6Z" fill="#fff" stroke="#4646dc" stroke-width="1.0" stroke-linejoin="miter"/>
<path d="M441.8,295.3H448L444.9,289.7Z" fill="#fff" stroke="#4646dc" stroke-width="1.0" stroke-linejoin="miter"/>
<path d="M448.4,294.8H454.6L451.5,289.2Z" fill="#fff" stroke="#4646dc" stroke-width="1.0" stroke-linejoin="miter"/>
<path d="M457.6,294.8H463.8L460.7,289.2Z" fill="#fff" stroke="#4646dc" stroke-width="1.0" stroke-linejoin="miter"/>
<path d="M462.5,292.1H468.7L465.6,286.5Z" fill="#fff" stroke="#4646dc" stroke-width="1.0" stroke-linejoin="miter"/>
<path d="M465.3,295.9H471.5L468.4,290.3Z" fill="#fff" stroke="#4646dc" stroke-width="1.0" stroke-linejoin="miter"/>
<path d="M477.3,294.8H483.5L480.4,289.2Z" fill="#fff" stroke="#4646dc" stroke-width="1.0" stroke-linejoin="miter"/>
<path d="M443.4,300.8H449.6L446.5,295.2Z" fill="#fff" stroke="#4646dc" stroke-width="1.0" stroke-linejoin="miter"/>
<path d="M469.6,300.8H475.8L472.7,295.2Z" fill="#fff" stroke="#4646dc" stroke-width="1.0" stroke-linejoin="miter"/>
<path d="M472.9,300.8H479.1L476,295.2Z" fill="#fff" stroke="#4646dc" stroke-width="1.0" stroke-linejoin="miter"/>
<path d="M488.2,300.8H494.4L491.3,295.2Z" fill="#fff" stroke="#4646dc" stroke-width="1.0" stroke-linejoin="miter"/>
<path d="M512.7,259.5H518.9L515.8,253.9Z" fill="#fff" stroke="#4646dc" stroke-width="1.0" stroke-linejoin="miter"/>
<path d="M502.6,295.1H508.8L505.7,289.5Z" fill="#fff" stroke="#4646dc" stroke-width="1.0" stroke-linejoin="miter"/>
<path d="M497.3,300.7H503.5L500.4,295.1Z" fill="#fff" stroke="#4646dc" stroke-width="1.0" stroke-linejoin="miter"/>
<path d="M525.4,300.7H531.6L528.5,295.1Z" fill="#fff" stroke="#4646dc" stroke-width="1.0" stroke-linejoin="miter"/>
<path d="M444,304.8H450.2L447.1,299.2Z" fill="#fff" stroke="#4646dc" stroke-width="1.0" stroke-linejoin="miter"/>
<path d="M443.4,309.7H449.6L446.5,304.1Z" fill="#fff" stroke="#4646dc" stroke-width="1.0" stroke-linejoin="miter"/>
<path d="M449.4,309.7H455.6L452.5,304.1Z" fill="#fff" stroke="#4646dc" stroke-width="1.0" stroke-linejoin="miter"/>
<polyline points="355.76,411.4 355.76,411.38 355.77,411.29 355.79,411.14 355.81,410.91 355.85,410.6 355.89,410.2 355.95,409.72 356.01,409.16 356.09,408.51 356.17,407.77 356.27,406.94 356.38,406.03 356.5,405.04 356.63,403.96 356.77,402.8 356.92,401.57 357.09,400.26 357.26,398.88 357.45,397.44 357.66,395.93 357.87,394.36 358.1,392.73 358.34,391.06 358.59,389.34 358.86,387.58 359.14,385.78 359.43,383.95 359.74,382.09 360.05,380.22 360.39,378.32 360.73,376.42 361.09,374.5 361.47,372.58 361.85,370.67 362.26,368.75 362.67,366.85 363.1,364.96 363.54,363.09 364,361.23 364.47,359.4 364.96,357.59 365.46,355.81 365.98,354.06 366.51,352.33 367.05,350.65 367.61,348.99 368.18,347.37 368.77,345.79 369.38,344.24 370,342.73 370.63,341.26 371.28,339.82 371.94,338.42 372.62,337.06 373.32,335.73 374.03,334.43 374.75,333.17 375.49,331.95 376.25,330.75 377.02,329.59 377.81,328.45 378.61,327.35 379.43,326.27 380.27,325.21 381.12,324.19 381.98,323.18 382.86,322.2 383.76,321.23 384.68,320.29 385.61,319.37 386.55,318.46 387.51,317.57 388.49,316.69 389.49,315.83 390.5,314.98 391.52,314.15 392.57,313.32 393.63,312.51 394.7,311.7 395.8,310.91 396.91,310.12 398.03,309.34 399.17,308.57 400.33,307.81 401.51,307.05 402.7,306.3 403.91,305.56 405.14,304.82 406.38,304.09 407.64,303.36 408.92,302.64 410.21,301.92 411.52,301.21 412.85,300.51 414.19,299.81 415.55,299.11 416.93,298.42 418.33,297.74 419.74,297.06 421.17,296.38 422.62,295.71 424.09,295.05 425.57,294.39 427.07,293.74 428.58,293.09 430.12,292.45 431.67,291.81 433.24,291.18 434.83,290.55 436.43,289.93 438.05,289.31 439.69,288.7 441.35,288.1 443.03,287.5 444.72,286.91 446.43,286.32 448.16,285.74 449.91,285.17 451.67,284.6 453.45,284.04 455.25,283.48 457.07,282.93 458.91,282.38 460.76,281.85 462.63,281.31 464.52,280.79 466.43,280.26 468.36,279.75 470.3,279.24 472.26,278.74 474.24,278.24 476.24,277.74 478.26,277.26 480.29,276.78 482.35,276.3 484.42,275.83 486.51,275.36 488.62,274.91 490.75,274.45 492.89,274 495.06,273.56 497.24,273.12 499.44,272.68 501.66,272.25 503.9,271.83 506.16,271.41 508.43,270.99 510.73,270.58 513.04,270.18 515.37,269.77 517.72,269.37 520.09,268.98 522.48,268.59 524.88,268.2 527.31,267.82 529.75,267.44 532.22,267.06 534.7,266.69 537.2,266.32" fill="none" stroke="#ff5c5c" stroke-width="1.3" stroke-linejoin="round"/>
<rect x="310.4" y="245.6" width="226.8" height="181.7" fill="none" stroke="#3a3a3a" stroke-width="1.1"/>
<path d="M310.4,427.3h3M537.2,427.3h-3M310.4,415.94h1.6M537.2,415.94h-1.6M310.4,404.59h3M537.2,404.59h-3M310.4,393.23h1.6M537.2,393.23h-1.6M310.4,381.88h3M537.2,381.88h-3M310.4,370.52h1.6M537.2,370.52h-1.6M310.4,359.16h3M537.2,359.16h-3M310.4,347.81h1.6M537.2,347.81h-1.6M310.4,336.45h3M537.2,336.45h-3M310.4,325.09h1.6M537.2,325.09h-1.6M310.4,313.74h3M537.2,313.74h-3M310.4,302.38h1.6M537.2,302.38h-1.6M310.4,291.02h3M537.2,291.02h-3M310.4,279.67h1.6M537.2,279.67h-1.6M310.4,268.31h3M537.2,268.31h-3M310.4,256.96h1.6M537.2,256.96h-1.6M310.4,245.6h3M537.2,245.6h-3M310.4,427.3v-3M310.4,245.6v3M333.08,427.3v-1.6M333.08,245.6v1.6M355.76,427.3v-3M355.76,245.6v3M378.44,427.3v-1.6M378.44,245.6v1.6M401.12,427.3v-3M401.12,245.6v3M423.8,427.3v-1.6M423.8,245.6v1.6M446.48,427.3v-3M446.48,245.6v3M469.16,427.3v-1.6M469.16,245.6v1.6M491.84,427.3v-3M491.84,245.6v3M514.52,427.3v-1.6M514.52,245.6v1.6M537.2,427.3v-3M537.2,245.6v3" stroke="#3a3a3a" stroke-width="1.1" fill="none"/>
<text x="306.8" y="430.2" text-anchor="end" font-size="11.4">0</text>
<text x="306.8" y="407.49" text-anchor="end" font-size="11.4">2</text>
<text x="306.8" y="384.77" text-anchor="end" font-size="11.4">4</text>
<text x="306.8" y="362.06" text-anchor="end" font-size="11.4">6</text>
<text x="306.8" y="339.35" text-anchor="end" font-size="11.4">8</text>
<text x="306.8" y="316.64" text-anchor="end" font-size="11.4">10</text>
<text x="306.8" y="293.92" text-anchor="end" font-size="11.4">12</text>
<text x="306.8" y="271.21" text-anchor="end" font-size="11.4">14</text>
<text x="306.8" y="248.5" text-anchor="end" font-size="11.4">16</text>
<text x="310.4" y="439.5" text-anchor="middle" font-size="11.4">5</text>
<text x="355.76" y="439.5" text-anchor="middle" font-size="11.4">0</text>
<text x="401.12" y="439.5" text-anchor="middle" font-size="11.4">−5</text>
<text x="446.48" y="439.5" text-anchor="middle" font-size="11.4">−10</text>
<text x="491.84" y="439.5" text-anchor="middle" font-size="11.4">−15</text>
<text x="537.2" y="439.5" text-anchor="middle" font-size="11.4">−20</text>
<text x="424.3" y="455" text-anchor="middle" font-size="12.2">Temperature /°C</text>
<text transform="translate(291.5,335.4) rotate(-90)" text-anchor="middle" font-size="11.9">Thermal diffusivity /(×10<tspan dy="-4.7" font-size="8.3">−7</tspan><tspan dy="4.7"> m</tspan><tspan dy="-4.7" font-size="8.3">2</tspan><tspan dy="4.7">·s</tspan><tspan dy="-4.7" font-size="8.3">−1</tspan><tspan dy="4.7">)</tspan></text>
<text x="316.7" y="260.5" font-size="9.6" style="stroke-width:0.35px">(d)</text>
<path d="M400.44,371.42H407.56L404,364.98Z" fill="#fff" stroke="#4646dc" stroke-width="1.0" stroke-linejoin="miter"/>
<text transform="translate(413.8,370.6) scale(1,1.1)" font-size="6.9">The identification result of the thermakarst</text>
<text transform="translate(415.1,379.3) scale(1,1.1)" font-size="6.9">lake in Beiluhe</text>
<line x1="396" y1="385.6" x2="412" y2="385.6" stroke="#ff5c5c" stroke-width="1.6"/>
<text transform="translate(413.8,388) scale(1,1.1)" font-size="6.9">Fitting curve of the identification result</text>
<line x1="396" y1="394.3" x2="412" y2="394.3" stroke="#3c8ff0" stroke-width="1.6"/>
<text transform="translate(413.8,396.7) scale(1,1.1)" font-size="6.9">The result of Yen 1981</text>
<line x1="396" y1="403" x2="412" y2="403" stroke="#2fd46a" stroke-width="1.6"/>
<text transform="translate(413.8,405.4) scale(1,1.1)" font-size="6.9">The result of Koubyshkin 2002</text>
<line x1="396" y1="411.7" x2="412" y2="411.7" stroke="#505050" stroke-width="1.4"/>
<text transform="translate(413.8,414.1) scale(1,1.1)" font-size="6.9">The result of Chen 2005</text>
<line x1="396" y1="420.4" x2="412" y2="420.4" stroke="#2a2a2a" stroke-width="1.1" stroke-dasharray="1.7 1.6"/>
<text transform="translate(413.8,422.8) scale(1,1.1)" font-size="6.9">The thermal diffusivity of water</text>
</svg>
</body></html>
